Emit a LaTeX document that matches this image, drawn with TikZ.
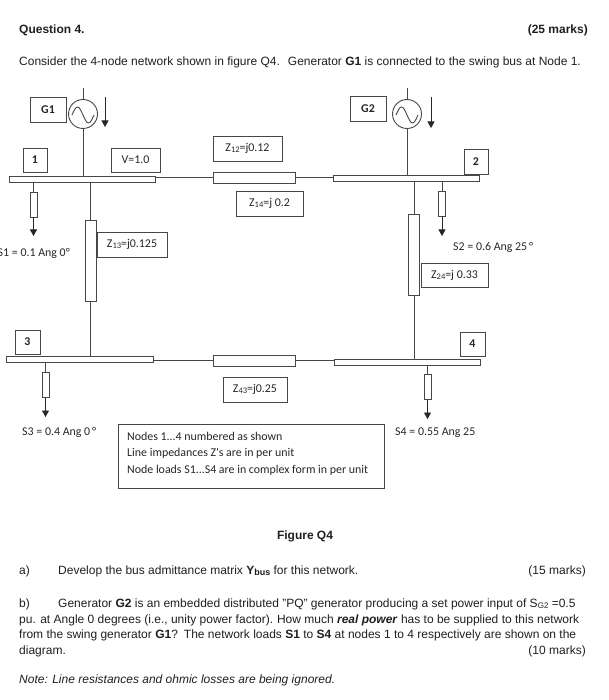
\documentclass[tikz,border=0pt]{standalone}
\usepackage{fontspec}
\setmainfont{Liberation Sans}
\newfontfamily\calib{Carlito}
\usetikzlibrary{arrows.meta}
\newcommand{\subz}[1]{{\fontsize{8.5}{9}\selectfont\raisebox{-1.2pt}{#1}}}
\newcommand{\shl}[1]{\hspace{-#1pt}}
\tikzset{
  x=1pt,y=-1pt,
  wire/.style={draw=black!72,line width=0.9pt},
  lbl/.style={wire,fill=white,inner sep=0pt,outer sep=0pt,font=\calib\fontsize{11.9}{13}\selectfont,text=black!85},
  tagbox/.style={lbl,font=\calib\bfseries\fontsize{11.9}{13}\selectfont},
  part/.style={wire,fill=white,inner sep=0pt,outer sep=0pt},
  gen/.style={part,circle,minimum size=29pt},
  load/.style={part,minimum width=7pt,minimum height=25pt},
  flow/.style={wire,draw=black!85,-{Triangle[length=6.5pt,width=7pt]}},
  free/.style={inner sep=0pt,font=\calib\fontsize{11.9}{13}\selectfont,text=black!85},
  txt/.style={inner sep=0pt,anchor=base west,font=\fontsize{12}{13}\selectfont,text=black!88},
  txtr/.style={txt,anchor=base east}
}
\begin{document}
\begin{tikzpicture}
\useasboundingbox (0,0) rectangle (609,700);
% buses
\node[part,minimum width=146pt,minimum height=6pt] (bus1) at (82,179) {};
\node[part,minimum width=146pt,minimum height=6pt] (bus2) at (406,178.5) {};
\node[part,minimum width=147pt,minimum height=6pt] (bus3) at (79.5,359) {};
\node[part,minimum width=146pt,minimum height=6pt] (bus4) at (407,362) {};
% line impedances
\node[part,minimum width=82pt,minimum height=11pt] (r12) at (254,177.5) {};
\node[part,minimum width=82pt,minimum height=11pt] (r43) at (254,360.5) {};
\node[part,minimum width=11pt,minimum height=81pt] (r13) at (90.5,260.5) {};
\node[part,minimum width=11pt,minimum height=81pt] (r24) at (414,254.5) {};
% loads
\node[load] (l1) at (33.5,204.5) {};
\node[load] (l2) at (442,203.5) {};
\node[load] (l3) at (45.5,385) {};
\node[load] (l4) at (427.5,387) {};
\coordinate (e1) at (33.5,236);
\coordinate (e2) at (442,236);
\coordinate (e3) at (45.5,417);
\coordinate (e4) at (427.5,419);
% generators
\node[gen] (g1) at (83,114) {};
\node[gen] (g2) at (407,114) {};
\coordinate (t1) at (83,88);
\coordinate (t2) at (407,88);
\coordinate (a1s) at (105,97);
\coordinate (a1e) at (105,127);
\coordinate (a2s) at (431,97);
\coordinate (a2e) at (431,128);
% connectors
\draw[wire] (t1) -- (g1.north);
\draw[wire] (g1.south) -- (g1.south |- bus1.north);
\draw[wire] (t2) -- (g2.north);
\draw[wire] (g2.south) -- (g2.south |- bus2.north);
\draw[wire] (bus1.east |- r12.west) -- (r12.west);
\draw[wire] (r12.east) -- (bus2.west |- r12.east);
\draw[wire] (bus3.east |- r43.west) -- (r43.west);
\draw[wire] (r43.east) -- (bus4.west |- r43.east);
\draw[wire] (r13.north |- bus1.south) -- (r13.north);
\draw[wire] (r13.south) -- (r13.south |- bus3.north);
\draw[wire] (r24.north |- bus2.south) -- (r24.north);
\draw[wire] (r24.south) -- (r24.south |- bus4.north);
\draw[wire] (l1.north |- bus1.south) -- (l1.north);
\draw[wire] (l2.north |- bus2.south) -- (l2.north);
\draw[wire] (l3.north |- bus3.south) -- (l3.north);
\draw[wire] (l4.north |- bus4.south) -- (l4.north);
\draw[flow] (l1.south) -- (e1);
\draw[flow] (l2.south) -- (e2);
\draw[flow] (l3.south) -- (e3);
\draw[flow] (l4.south) -- (e4);
\draw[flow] (a1s) -- (a1e);
\draw[flow] (a2s) -- (a2e);
% sine waves in the generators
\draw[wire] (g1.center) ++(-11,1) sin ++(5.5,-8) cos ++(5.5,8) sin ++(5.5,8) cos ++(5.5,-8);
\draw[wire] (g2.center) ++(-11,1) sin ++(5.5,-8) cos ++(5.5,8) sin ++(5.5,8) cos ++(5.5,-8);
% labels
\node[tagbox,minimum width=36pt,minimum height=25pt] (G1) at (48,109.5) {G1\shl{5}};
\node[tagbox,minimum width=36pt,minimum height=25pt] (G2) at (368,108.5) {G2\shl{4}};
\node[tagbox,minimum width=24pt,minimum height=24pt] (n1) at (35,160) {1};
\node[tagbox,minimum width=24pt,minimum height=25pt] (n2) at (476,161.5) {2};
\node[tagbox,minimum width=25pt,minimum height=24pt] (n3) at (27.5,342) {3};
\node[tagbox,minimum width=25pt,minimum height=24pt] (n4) at (472.5,344) {4};
\node[lbl,minimum width=49pt,minimum height=24pt] (v1) at (135.5,160) {V=1.0\shl{3}};
\node[lbl,minimum width=69pt,minimum height=25pt] (z12) at (247.5,148.5) {Z\subz{12}=j0.12};
\node[lbl,minimum width=67pt,minimum height=25pt] (z14) at (269.5,203.5) {Z\subz{14}=j 0.2\shl{10}};
\node[lbl,minimum width=70pt,minimum height=25pt] (z13) at (132,244.5) {Z\subz{13}=j0.125\shl{3}};
\node[lbl,minimum width=67pt,minimum height=24pt] (z24) at (454.5,275) {Z\subz{24}=j 0.33\shl{2}};
\node[lbl,minimum width=64pt,minimum height=25pt] (z43) at (255,389.5) {Z\subz{43}=j0.25};
\node[free,anchor=east] (s1) at (70,253) {S1 = 0.1 Ang 0°};
\node[free,anchor=west] (s2) at (453,247) {S2 = 0.6 Ang 25\,°};
\node[free,anchor=west] (s3) at (22,432) {S3 = 0.4 Ang 0\,°};
\node[free,anchor=west] (s4) at (395,433) {S4 = 0.55 Ang 25};
\node[part,minimum width=266pt,minimum height=64pt] (note) at (251,456) {};
\node[free,anchor=west] (note1) at (127,436) {Nodes 1...4 numbered as shown};
\node[free,anchor=west] (note2) at (127,453) {Line impedances Z's are in per unit};
\node[free,anchor=west] (note3) at (127,470) {Node loads S1...S4 are in complex form in per unit};
% question text
\node[txt,font=\bfseries\fontsize{12}{13}\selectfont] (q) at (19,34) {Question 4.};
\node[txtr,font=\bfseries\fontsize{12}{13}\selectfont] (qm) at (588,34) {(25 marks)};
\node[txt] (intro) at (19,66) {Consider the 4-node network shown in figure Q4.\hspace{8pt}Generator \textbf{G1} is connected to the swing bus at Node 1.};
\node[txt,anchor=base,font=\bfseries\fontsize{12}{13}\selectfont] (fig) at (305,539) {Figure Q4};
\node[txt] (a) at (19,574) {a)};
\node[txt] (at) at (58,574) {Develop the bus admittance matrix \textbf{Y}{\bfseries\fontsize{9}{10}\selectfont\raisebox{-1.5pt}{bus}} for this network.};
\node[txtr] (am) at (586,574) {(15 marks)};
\node[txt] (b) at (19,607) {b)};
\node[txt] (b1) at (58,607) {Generator \textbf{G2} is an embedded distributed "PQ" generator producing a set power input of S{\fontsize{8}{9}\selectfont\raisebox{-1.5pt}{G2}} =0.5};
\node[txt] (b2) at (19,623) {pu. at Angle 0 degrees (i.e., unity power factor).\hspace{4pt}How much \textbf{\itshape real power} has to be supplied to this network};
\node[txt] (b3) at (19,638) {from the swing generator \textbf{G1}?\hspace{6pt}The network loads \textbf{S1} to \textbf{S4} at nodes 1 to 4 respectively are shown on the};
\node[txt] (b4) at (19,654) {diagram.};
\node[txtr] (bm) at (586,654) {(10 marks)};
\node[txt,font=\itshape\fontsize{12}{13}\selectfont] (nt) at (19,683) {Note: Line resistances and ohmic losses are being ignored.};
\end{tikzpicture}
\end{document}
